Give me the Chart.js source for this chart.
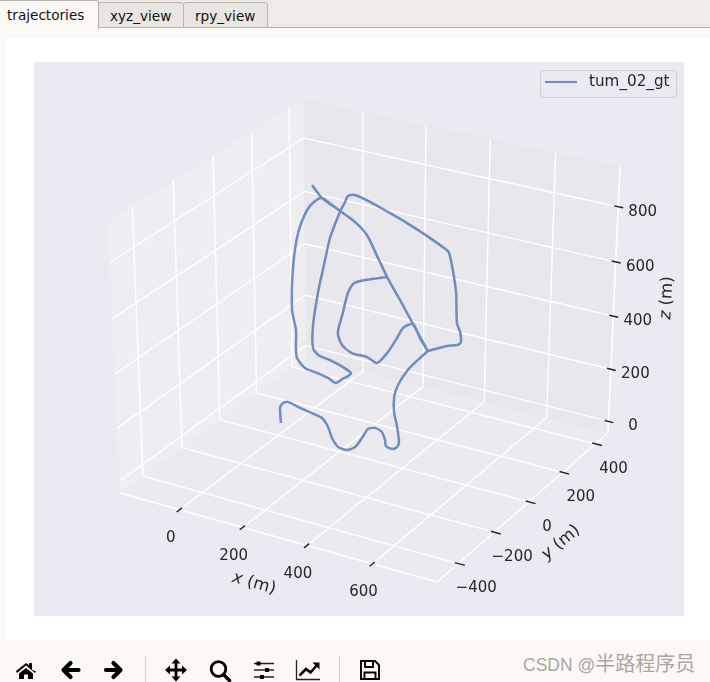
<!DOCTYPE html>
<html><head><meta charset="utf-8">
<style>
html,body{margin:0;padding:0;width:710px;height:682px;overflow:hidden;background:#fcf8f5;font-family:"DejaVu Sans",sans-serif}
#bar{position:absolute;left:0;top:0;width:710px;height:27px;background:#efebe7;border-bottom:1px solid #b5b2ae}
.tab{position:absolute;box-sizing:border-box;font-size:13.6px;color:#111;text-align:left;white-space:nowrap}
.off{top:2px;height:26px;background:#e9e6e2;border:1px solid #b9b6b2;border-radius:3px 3px 0 0;padding-top:5px}
#t0{left:0;top:0;width:99px;height:29px;background:#fcf8f5;border:1px solid #b5b2ae;border-left:0;border-bottom:0;border-radius:0 3px 0 0;padding:6px 0 0 7px}
#t1{left:98px;width:86px;padding-left:11px}
#t2{left:183px;width:85px;padding-left:11px}
#fig{position:absolute;left:6px;top:38px;width:704px;height:602px;background:#fff}
#c{position:absolute;left:34px;top:62px;display:block}
#tools{position:absolute;left:0;top:640px}
#mark{position:absolute;left:523px;top:651px;color:#a8a6a4;font:17.5px "Liberation Sans",sans-serif;white-space:nowrap;line-height:24px}
#mark span{font:20px "Noto Sans CJK SC",sans-serif;line-height:24px}
</style></head>
<body>
<div id="bar"></div>
<div class="tab off" id="t1">xyz_view</div>
<div class="tab off" id="t2">rpy_view</div>
<div class="tab" id="t0">trajectories</div>
<div id="fig"></div>
<canvas id="c" width="650" height="554"></canvas>
<svg id="tools" width="710" height="42" viewBox="0 640 710 42">
<path d="M16 671 L26 663 L29 665.2 V663 h3 V669.8 L36 671.5 l-1 1.5 L26 665.5 L17 673z M19 673.5 L26 668 L33 673.5 V679 H28 V674.5 H24 V679 H19z"/>
<path d="M78.500 670 H64 M70.500 663 L63.500 670 L70.500 677" fill="none" stroke="#000" stroke-width="4.200" stroke-linecap="round" stroke-linejoin="round"/>
<path d="M106 670 H120 M113.500 663 L120.500 670 L113.500 677" fill="none" stroke="#000" stroke-width="4.200" stroke-linecap="round" stroke-linejoin="round"/>
<path d="M167 670 H185 M176 661 V679" stroke="#000" stroke-width="2.800" fill="none"/>
<path d="M165 670 l5 -4.500 v9z M187 670 l-5 -4.500 v9z M176 658.500 l-4.500 5 h9z M176 681.500 l-4.500 -5 h9z"/>
<circle cx="218.500" cy="669" r="7.300" fill="none" stroke="#000" stroke-width="2.800"/>
<path d="M223.500 674.500 L229.500 680.500" stroke="#000" stroke-width="3.400" stroke-linecap="round"/>
<path d="M254 663.500 H274 M254 670 H274 M254 677 H274" stroke="#222" stroke-width="1.400"/>
<path d="M256.500 661.500 h4 v4 h-4z M265 668 h4 v4 h-4z M260 675 h4 v4 h-4z"/>
<path d="M296.500 660 V679.500 H320" fill="none" stroke="#222" stroke-width="1.300"/>
<path d="M299.500 675.500 L306 669 L310.500 672.500 L317 665" fill="none" stroke="#000" stroke-width="2.600"/>
<path d="M312.500 662.500 H319.500 V669.500z"/>
<path d="M361 661 H375 L379 665 V679 H361z M365 661.500 V667 H373 V661.500 M364.500 679 V672.500 H375.500 V679" fill="none" stroke="#000" stroke-width="1.900"/>
<path d="M145.500 656 V682 M339.500 656 V682" stroke="#d2cfcc" stroke-width="1"/>
</svg>
<div id="mark">CSDN @<span>半路程序员</span></div>
<script src="https://cdn.jsdelivr.net/npm/chart.js@4"></script>
<script>
// ---- data (metres) ----
const seriesName = "tum_02_gt";
const trajX = [118,149,204,250,287,318,349,389,430,476,476,534,567,576,573,563,559,549,536,524,469,409,351,296,250,229,220,204,173,157,134,117,117,133,171,212,237,228,209,189,164,129,90,65,62,63,51,56,73,102,127,149,204,250,287,318,349,349,306,266,244,228,212,196,209,240,288,319,353,381,399,430,451,476,476,452,415,385,373,373,383,389,383,367,348,345,335,313,291,272,250,224,195,176,163,144,112,73,34,18,8,10];
const trajZ = [918,880,849,822,785,719,652,580,504,419,419,454,468,481,517,546,653,725,789,800,831,860,884,905,917,908,885,845,744,660,534,403,324,303,295,281,266,252,235,214,226,234,241,272,312,376,447,607,735,825,864,880,849,822,785,719,652,652,633,614,597,560,482,404,363,342,341,328,379,439,481,504,460,419,419,386,331,266,217,161,107,52,31,19,24,46,73,82,71,31,-11,-31,-28,0,39,67,76,84,95,86,64,6];
const trajY = [0,0,0,0,0,0,0,0,0,0,0,0,0,0,0,0,0,0,0,0,0,0,0,0,0,0,0,0,0,0,0,0,0,0,0,0,0,0,0,0,0,0,0,0,0,0,0,0,0,0,0,0,0,0,0,0,0,0,0,0,0,0,0,0,0,0,0,0,0,0,0,0,0,0,0,0,0,0,0,0,0,0,0,0,0,0,0,0,0,0,0,0,0,0,0,0,0,0,0,0,0,0];
const xTicks = [0,200,400,600];
const yTicks = [-400,-200,0,200,400];
const zTicks = [0,200,400,600,800];
const xLim = [-193,793];
const yLim = [-515,478];
const zLim = [-45,943];

// ---- camera of the 3D view: images of the box corners seen from the front corner ----
const W = 650, H = 554;
const cam = {O:[403,34], A:[86,123], B:[574,183], C:[407,315], wa:1.05, wb:1.08, wc:0.95};
function project(x,y,z){
  const a=(xLim[1]-x)/(xLim[1]-xLim[0]), b=(y-yLim[0])/(yLim[1]-yLim[0]), c=(z-zLim[0])/(zLim[1]-zLim[0]);
  const d=1+a*(cam.wa-1)+b*(cam.wb-1)+c*(cam.wc-1);
  const f=i=>(cam.O[i]+a*(cam.wa*cam.A[i]-cam.O[i])+b*(cam.wb*cam.B[i]-cam.O[i])+c*(cam.wc*cam.C[i]-cam.O[i]))/d;
  return {x:f(0),y:f(1)};
}
const seg=(p,q,color,width)=>({data:[project(...p),project(...q)],showLine:true,borderColor:color,borderWidth:width,pointRadius:0,fill:false,tension:0});
const pane=(pts,color)=>({data:[...pts,pts[0]].map(p=>project(...p)),showLine:true,borderWidth:0,borderColor:'transparent',backgroundColor:color,pointRadius:0,fill:'shape',tension:0});
const [x0,x1]=xLim,[y0,y1]=yLim,[z0,z1]=zLim;
const GRID='#ffffff', TICK='#262626', GW=1.35;

const panes=[
  pane([[x0,y0,z0],[x0,y0,z1],[x0,y1,z1],[x0,y1,z0]],'rgba(242,242,242,0.5)'),
  pane([[x0,y1,z0],[x0,y1,z1],[x1,y1,z1],[x1,y1,z0]],'rgba(230,230,230,0.5)'),
  pane([[x0,y0,z0],[x1,y0,z0],[x1,y1,z0],[x0,y1,z0]],'rgba(236,236,236,0.5)')
];
const grid=[];
xTicks.forEach(v=>{grid.push(seg([v,y0,z0],[v,y1,z0],GRID,GW),seg([v,y1,z0],[v,y1,z1],GRID,GW));});
yTicks.forEach(v=>{grid.push(seg([x0,v,z0],[x1,v,z0],GRID,GW),seg([x0,v,z0],[x0,v,z1],GRID,GW));});
zTicks.forEach(v=>{grid.push(seg([x0,y0,v],[x0,y1,v],GRID,GW),seg([x0,y1,v],[x1,y1,v],GRID,GW));});
const edges=[seg([x0,y0,z0],[x1,y0,z0],GRID,1.6),seg([x1,y0,z0],[x1,y1,z0],GRID,1.6),seg([x1,y1,z0],[x1,y1,z1],GRID,1.6)];
const ticks=[];
xTicks.forEach(v=>ticks.push(seg([v,y0+12,z0],[v,y0-15,z0],TICK,1.5)));
yTicks.forEach(v=>ticks.push(seg([x1-10,v,z0],[x1+20,v,z0],TICK,1.5)));
zTicks.forEach(v=>ticks.push(seg([x1-12,y1,v],[x1+15,y1,v],TICK,1.5)));
const traj={label:seriesName,data:trajX.map((v,i)=>project(v,trajY[i],trajZ[i])),showLine:true,borderColor:'rgba(76,114,176,0.78)',borderWidth:2.5,pointRadius:0,fill:false,tension:0.25,borderJoinStyle:'round',borderCapStyle:'butt'};

const labelsPlugin={
  id:'axisText',
  afterDatasetsDraw(ch){
    const {ctx,scales:{x:sx,y:sy}}=ch;
    const at=p=>[sx.getPixelForValue(p.x),sy.getPixelForValue(p.y)];
    ctx.save();
    ctx.fillStyle='#262626';ctx.textAlign='center';ctx.textBaseline='middle';
    ctx.font='15px "DejaVu Sans"';
    const fmt=v=>String(v).replace('-','\u2212');
    xTicks.forEach(v=>{const [a,b]=at(project(v,y0,z0));ctx.fillText(fmt(v),a-9,b+28.5);});
    yTicks.forEach(v=>{const [a,b]=at(project(x1,v,z0));ctx.fillText(fmt(v),a+18,b+25);});
    zTicks.forEach(v=>{const [a,b]=at(project(x1,y1,v));ctx.fillText(fmt(v),a+24.5,b+5);});
    // axis titles: italic symbol + unit
    const title=(sym,cx,cy,rot)=>{
      ctx.save();ctx.translate(cx,cy);ctx.rotate(rot*Math.PI/180);
      ctx.textAlign='left';
      const it='italic 16.7px "DejaVu Sans"',re='16.7px "DejaVu Sans"',unit=' (m)';
      ctx.font=it;const w1=ctx.measureText(sym).width;
      ctx.font=re;const w2=ctx.measureText(unit).width;
      ctx.font=it;ctx.fillText(sym,-(w1+w2)/2,0);
      ctx.font=re;ctx.fillText(unit,-(w1+w2)/2+w1,0);
      ctx.restore();
    };
    title('x',220,521.5,16);
    title('y',527,480.5,-40);
    title('z',633,236,-87);
    // legend
    ctx.beginPath();ctx.roundRect(506.5,8.5,136,27,3);
    ctx.fillStyle='rgba(234,234,242,0.8)';ctx.fill();
    ctx.strokeStyle='rgba(204,204,204,0.8)';ctx.lineWidth=1.2;ctx.stroke();
    ctx.beginPath();ctx.moveTo(511,20);ctx.lineTo(543,20);
    ctx.strokeStyle=traj.borderColor;ctx.lineWidth=2.1;ctx.stroke();
    ctx.fillStyle='#262626';ctx.textAlign='left';ctx.font='15.2px "DejaVu Sans"';
    ctx.fillText(seriesName,555,20.5);
    ctx.restore();
  }
};
Chart.defaults.font.family='"DejaVu Sans"';
new Chart(document.getElementById('c'),{
  type:'scatter',
  data:{datasets:[traj,...ticks,...edges,...grid,...panes]},
  options:{
    responsive:false,animation:false,devicePixelRatio:1,
    layout:{padding:0},
    plugins:{legend:{display:false},tooltip:{enabled:false}},
    scales:{
      x:{type:'linear',min:0,max:W,display:false},
      y:{type:'linear',min:0,max:H,display:false}
    },
    clip:false,
    events:[]
  },
  plugins:[{id:'bg',beforeDraw(ch){ch.ctx.save();ch.ctx.fillStyle='#eaeaf2';ch.ctx.fillRect(0,0,W,H);ch.ctx.restore();}},labelsPlugin]
});
</script>
</body></html>
